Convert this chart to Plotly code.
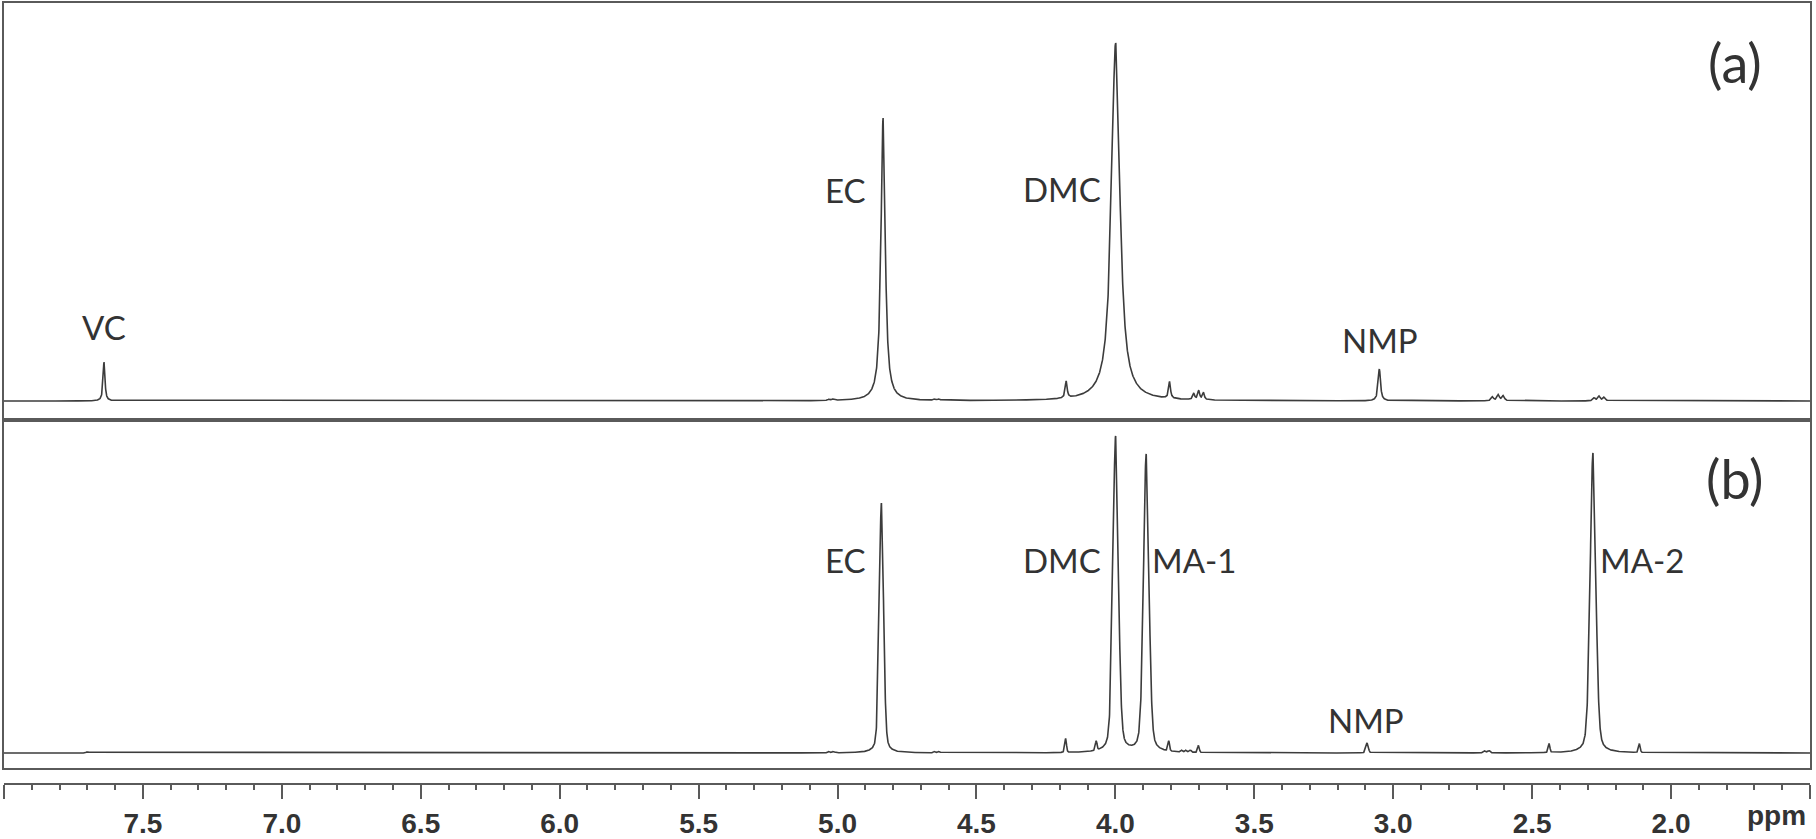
import numpy as np
import plotly.graph_objects as go

# ---------------- data ----------------
# Spectrum (a): peak list (chemical shift ppm, relative intensity, FWHM ppm)
shift_a = [7.640, 5.030, 5.015, 4.836, 4.650, 4.635, 4.177, 3.999, 3.805,
           3.718, 3.700, 3.683, 3.050, 2.643, 2.622, 2.604, 2.277, 2.259, 2.241]
height_a = [10.9, 0.4, 0.4, 79.0, 0.4, 0.4, 4.7, 100.0, 4.7,
            1.7, 2.5, 2.0, 8.9, 1.1, 1.7, 1.4, 0.8, 1.3, 1.0]
fwhm_a = [0.008, 0.008, 0.008, 0.018, 0.008, 0.008, 0.008, 0.036, 0.008,
          0.008, 0.008, 0.008, 0.010, 0.010, 0.010, 0.010, 0.010, 0.010, 0.010]

# Spectrum (b)
shift_b = [7.700, 5.030, 5.015, 4.842, 4.650, 4.635, 4.179, 4.069, 3.999, 3.889,
           3.808, 3.760, 3.745, 3.730, 3.701, 3.094, 2.670, 2.655, 2.439, 2.281, 2.114]
height_b = [0.3, 0.4, 0.4, 69.8, 0.4, 0.4, 3.9, 2.6, 88.3, 83.2,
            2.8, 0.6, 0.6, 0.6, 2.0, 2.8, 0.6, 0.6, 2.5, 83.8, 2.5]
fwhm_b = [0.010, 0.008, 0.008, 0.018, 0.008, 0.008, 0.007, 0.007, 0.023, 0.023,
          0.007, 0.008, 0.008, 0.008, 0.007, 0.010, 0.010, 0.010, 0.007, 0.024, 0.007]

# Axis ticks
tick_values = [8.0, 7.5, 7.0, 6.5, 6.0, 5.5, 5.0, 4.5, 4.0, 3.5, 3.0, 2.5, 2.0, 1.5]
tick_labels = ["", "7.5", "7.0", "6.5", "6.0", "5.5", "5.0", "4.5", "4.0",
               "3.5", "3.0", "2.5", "2.0", ""]

# Peak labels
labels_a = ["VC", "EC", "DMC", "NMP", "(a)"]
labels_b = ["EC", "DMC", "MA-1", "MA-2", "NMP", "(b)"]

# ---------------- build spectra ----------------
ppm = np.linspace(1.5, 8.0, 13001)


def spectrum(shifts, heights, widths, eta):
    y = np.zeros_like(ppm)
    for c, h, w in zip(shifts, heights, widths):
        d = (ppm - c) / w
        lor = 1.0 / (1.0 + 4.0 * d * d)
        gau = np.exp(-4.0 * np.log(2.0) * d * d)
        y += h * (eta * lor + (1.0 - eta) * gau)
    return y


ya = spectrum(shift_a, height_a, fwhm_a, 0.9)
yb = spectrum(shift_b, height_b, fwhm_b, 0.3)

W, H = 1816, 839
LINE = "#3c3c3c"
BOX = "#5a5a5a"

fig = go.Figure()
fig.add_trace(go.Scatter(x=ppm, y=ya, mode="lines", line=dict(color=LINE, width=1.6),
                         xaxis="x", yaxis="y", showlegend=False, hoverinfo="skip"))
fig.add_trace(go.Scatter(x=ppm, y=yb, mode="lines", line=dict(color=LINE, width=1.6),
                         xaxis="x2", yaxis="y2", showlegend=False, hoverinfo="skip"))
fig.add_trace(go.Scatter(x=[8.0, 1.5], y=[0, 0], mode="markers", marker=dict(opacity=0),
                         xaxis="x3", yaxis="y3", showlegend=False, hoverinfo="skip"))

xdom = [4 / W, 1810 / W]
box_axis = dict(showline=True, mirror=True, linecolor=BOX, linewidth=2, automargin=False,
                showgrid=False, zeroline=False, ticks="", showticklabels=False)

fig.update_layout(
    width=W, height=H,
    margin=dict(l=0, r=0, t=0, b=0, autoexpand=False),
    paper_bgcolor="white", plot_bgcolor="white",
    xaxis=dict(domain=xdom, range=[8.0, 1.5], anchor="y", **box_axis),
    yaxis=dict(domain=[(H - 418) / H, (H - 3) / H], range=[-4.75, 111.2], anchor="x", **box_axis),
    xaxis2=dict(domain=xdom, range=[8.0, 1.5], anchor="y2", **box_axis),
    yaxis2=dict(domain=[(H - 768) / H, (H - 422) / H], range=[-4.19, 92.46], anchor="x2", **box_axis),
    xaxis3=dict(domain=xdom, range=[8.0, 1.5], anchor="y3", side="bottom", automargin=False,
                showline=True, linecolor=BOX, linewidth=2, showgrid=False, zeroline=False,
                tickmode="array", tickvals=tick_values, ticktext=tick_labels,
                ticks="outside", ticklen=14, tickwidth=2, tickcolor=BOX,
                minor=dict(tickmode="linear", tick0=0, dtick=0.1, ticks="outside",
                           ticklen=5, tickwidth=2, tickcolor=BOX, showgrid=False),
                tickfont=dict(family="Liberation Sans, Arial, sans-serif", size=28,
                              color="#333333", weight="bold")),
    yaxis3=dict(domain=[(H - 783) / H, (H - 778) / H], visible=False, range=[0, 1],
                automargin=False),
)

lab_font = dict(family="Lato, Noto Sans, sans-serif", size=33, color="#333333")
big_font = dict(family="Lato, Noto Sans, sans-serif", size=54, color="#333333")

# (text, ppm, intensity, xanchor)
ann_a = [(labels_a[0], 7.640, 20.7, "center"),
         (labels_a[1], 4.890, 58.9, "right"),
         (labels_a[2], 4.045, 59.1, "right"),
         (labels_a[3], 3.048, 17.0, "center")]
ann_b = [(labels_b[0], 4.890, 53.9, "right"),
         (labels_b[1], 4.045, 53.9, "right"),
         (labels_b[2], 3.875, 53.9, "left"),
         (labels_b[3], 2.263, 53.9, "left"),
         (labels_b[4], 3.098, 9.2, "center")]

for t, xx, yy, xa in ann_a:
    fig.add_annotation(text=t, x=xx, y=yy, xref="x", yref="y", xanchor=xa, yanchor="middle",
                       showarrow=False, font=lab_font)
for t, xx, yy, xa in ann_b:
    fig.add_annotation(text=t, x=xx, y=yy, xref="x2", yref="y2", xanchor=xa, yanchor="middle",
                       showarrow=False, font=lab_font)

fig.add_annotation(text=labels_a[4], x=1.770, y=94.5, xref="x", yref="y", xanchor="center",
                   yanchor="middle", showarrow=False, font=big_font)
fig.add_annotation(text=labels_b[5], x=1.770, y=76.8, xref="x2", yref="y2", xanchor="center",
                   yanchor="middle", showarrow=False, font=big_font)

fig.add_annotation(text="<b>ppm</b>", x=1808 / W, y=(H - 815) / H, xref="paper", yref="paper",
                   xanchor="right", yanchor="middle", showarrow=False,
                   font=dict(family="Liberation Sans, Arial, sans-serif", size=28, color="#333333"))

fig.write_html("out.html")
